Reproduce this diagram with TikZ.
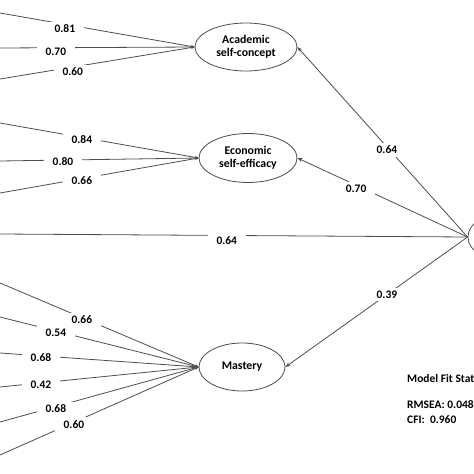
\documentclass[tikz,border=0pt]{standalone}
\usepackage{fontspec}
\setmainfont{Carlito}
\usepackage{tikz}
\usetikzlibrary{arrows.meta,shapes.geometric}
\definecolor{edge}{HTML}{4D4D4D}
\tikzset{
  latent/.style={ellipse,draw=edge,line width=0.8pt,inner sep=0pt,align=center,font=\fontsize{11.8}{13.5}\selectfont\bfseries},
  load/.style={fill=white,inner xsep=9pt,inner ysep=3pt,font=\fontsize{11.5}{13.5}\selectfont\bfseries},
  link/.style={draw=edge,line width=0.8pt},
  fit/.style={anchor=base west,inner sep=0pt,font=\fontsize{11.5}{13.5}\selectfont\bfseries}
}
\begin{document}
\begin{tikzpicture}[x=1pt,y=-1pt]
\clip (0,0) rectangle (474,474);
\node[latent,minimum width=102pt,minimum height=48pt] (acad) at (246,47) {Academic\\self-concept};
\node[latent,minimum width=98pt,minimum height=49pt] (econ) at (248,158) {Economic\\self-efficacy};
\node[latent,minimum width=86pt,minimum height=48pt] (mast) at (242,367) {Mastery};
\node[latent,minimum width=80pt,minimum height=50pt] (gen) at (508,237) {};
% indicators run off the left edge
\foreach \n/\y/\v/\p in {1/13/0.81/0.667,2/48/0.70/0.713,3/79/0.60/0.626}{
  \coordinate (acad\n) at (0,\y);
  \draw[link,{Stealth[length=3.5pt,width=3pt]}-] (acad.west) -- node[load,pos=\p,yshift=-4.5pt] {\v} (acad\n);
}
\foreach \n/\y/\v/\p in {1/123/0.84/0.588,2/161/0.80/0.683,3/193/0.66/0.588}{
  \coordinate (econ\n) at (0,\y);
  \draw[link,{Stealth[length=3.5pt,width=3pt]}-] (econ.west) -- node[load,pos=\p,yshift=-2pt] {\v} (econ\n);
}
\foreach \n/\y/\v/\p in {1/283/0.66/0.588,2/317/0.54/0.719,3/353/0.68/0.794,4/387/0.42/0.794,5/422/0.68/0.719,6/455/0.60/0.628}{
  \coordinate (mast\n) at (0,\y);
  \draw[link,{Stealth[length=3.5pt,width=3pt]}-] (mast.west) -- node[load,pos=\p,yshift=-2pt] {\v} (mast\n);
}
\coordinate (single) at (0,234);
\draw[link] (gen.west) -- node[load,pos=0.515,yshift=-5pt] {0.64} (single);
\draw[link,-{Stealth[length=5pt,width=4pt]}] (gen.west) -- node[load,pos=0.474,yshift=-3pt] {0.64} (acad.east);
\draw[link,-{Stealth[length=5pt,width=4pt]}] (gen.west) -- node[load,pos=0.655,yshift=-4pt] {0.70} (econ.east);
\draw[link,-{Stealth[length=5pt,width=4pt]}] (gen.west) -- node[load,pos=0.443] {0.39} (mast.east);
\node[fit] (fittitle) at (407,382) {Model Fit Statistics};
\node[fit] (rmsea) at (407,408) {RMSEA: 0.048};
\node[fit] (cfi) at (407,423) {CFI:\ \ 0.960};
\end{tikzpicture}
\end{document}
